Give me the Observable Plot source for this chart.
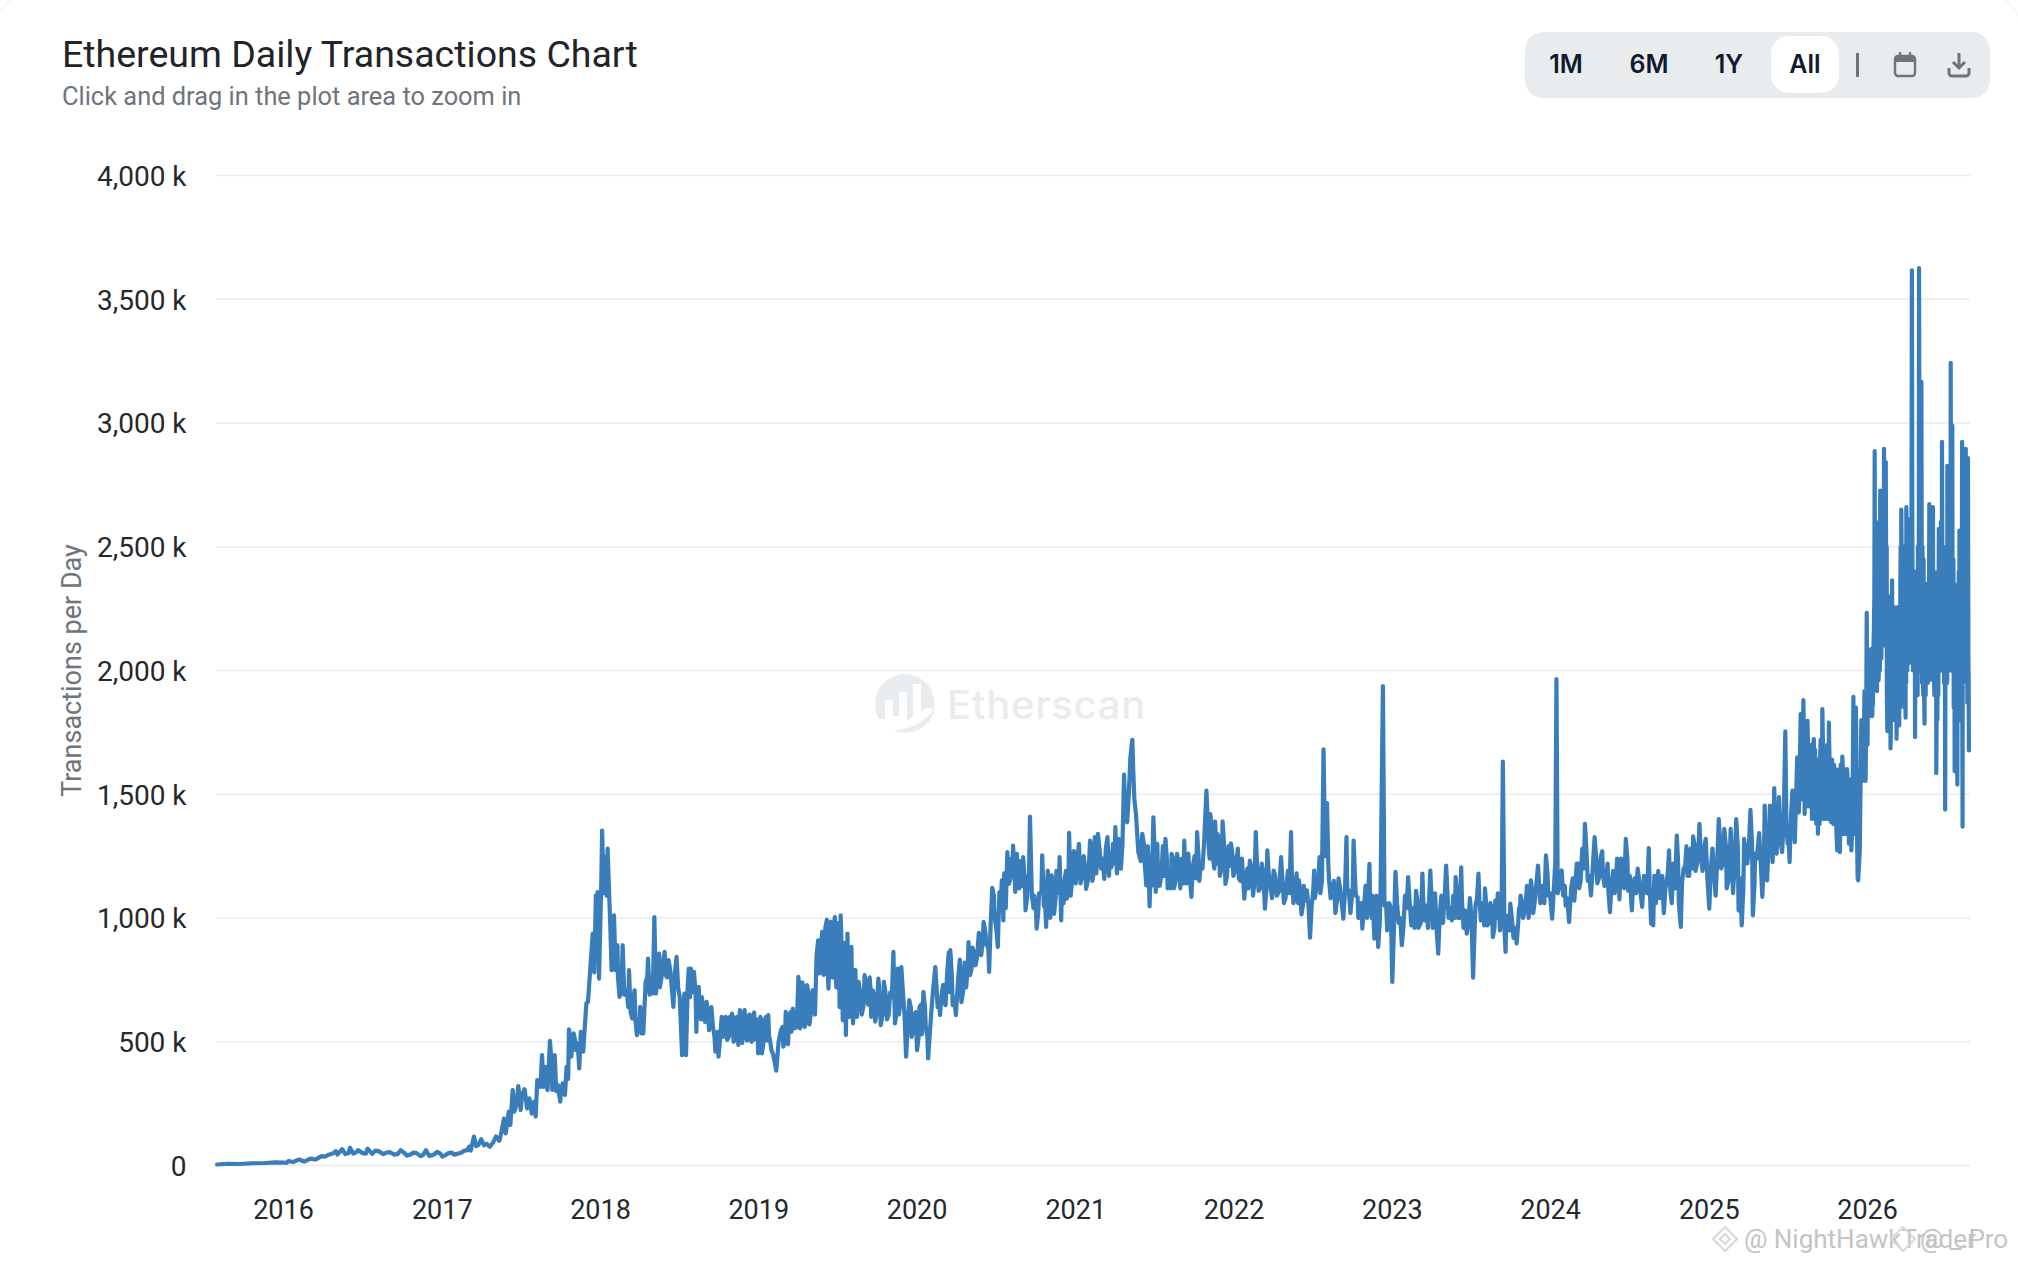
<!DOCTYPE html>
<html><head><meta charset="utf-8">
<script src="https://cdn.jsdelivr.net/npm/d3@7"></script>
<script src="https://cdn.jsdelivr.net/npm/@observablehq/plot@0.6"></script>
<style>
html,body{margin:0;padding:0;background:#fff;width:2018px;height:1264px;overflow:hidden;font-family:Roboto,sans-serif}
#page{position:relative;width:2018px;height:1264px;overflow:hidden}
#card{position:absolute;left:-6px;top:-8px;width:2028px;height:1400px;border:1.5px solid #eceef0;border-radius:40px;box-sizing:border-box}
#head{position:relative;height:120px}
#title{position:absolute;left:62px;top:31px;font-size:37.5px;line-height:46px;color:#1f2429;font-weight:400;white-space:nowrap}
#sub{position:absolute;left:62px;top:81px;font-size:25.4px;line-height:30px;color:#6c757d;white-space:nowrap}
#bar{position:absolute;left:1525px;top:32px;width:465px;height:66px;background:#e9ecef;border-radius:18px}
#bar span{position:absolute;top:0;line-height:64px;font-family:Inter,Roboto,sans-serif;font-weight:600;font-size:25px;color:#0f1a2c;transform:translateX(-50%)}
#all{position:absolute;left:246px;top:4px;width:68px;height:57px;background:#fff;border-radius:18px}
#div{position:absolute;left:331px;top:21px;width:3px;height:24px;background:#6c757d}
#bar svg{position:absolute;top:19px}
#wm{position:absolute;left:875px;top:674px;display:flex;align-items:center;color:#e9ecef;font-family:Inter,sans-serif;font-size:40px;font-weight:500;z-index:0}
#wm div{margin-left:12px;letter-spacing:.7px}
#chart{position:absolute;left:0;top:120px;z-index:1}
.mark{position:absolute;z-index:2;color:#c2c4c6;font-size:26px;font-family:Roboto,sans-serif;white-space:nowrap;top:1224px}
</style></head><body>
<div id="page">
<div id="card"></div>
<div id="wm"><svg width="60" height="60" viewBox="0 0 60 60"><path d="M30 0a30 30 0 0 1 29 36C52 32 50 34 46 38V10h-8v33l-6 4V18h-8v24h-6V26h-8v19H4A30 30 0 0 1 30 0z" fill="#e9ecef"/><path d="M60 34A30 30 0 0 1 18 56c18 0 32-8 42-22z" fill="#e9ecef"/></svg><div>Etherscan</div></div>
<div id="head">
<div id="title">Ethereum Daily Transactions Chart</div>
<div id="sub">Click and drag in the plot area to zoom in</div>
<div id="bar"><div id="all"></div><div id="div"></div>
<span style="left:41px">1M</span><span style="left:124px">6M</span><span style="left:204px">1Y</span><span style="left:280px">All</span>
<svg style="left:367px" width="26" height="28" viewBox="0 0 26 28"><rect x="3" y="5" width="20" height="20" rx="3" fill="none" stroke="#6c757d" stroke-width="2.4"/><rect x="3" y="5" width="20" height="6" fill="#6c757d"/><path d="M8 1v5M18 1v5" stroke="#6c757d" stroke-width="2.4"/></svg>
<svg style="left:421px" width="26" height="28" viewBox="0 0 26 28"><path d="M13 2v15M7 11l6 6 6-6" fill="none" stroke="#6c757d" stroke-width="3"/><path d="M3 17v5a3 3 0 0 0 3 3h14a3 3 0 0 0 3-3v-5" fill="none" stroke="#6c757d" stroke-width="3"/></svg>
</div>
</div>
<div id="chart"></div>
<svg class="mark" style="left:1712px;top:1226px;position:absolute" width="26" height="26" viewBox="0 0 26 26"><path d="M13 1l12 12-12 12L1 13z M13 8l5 5-5 5-5-5z" fill="none" stroke="#d6d8da" stroke-width="2"/></svg>
<div class="mark" style="left:1744px">@ NightHawkTrader</div>
<svg class="mark" style="left:1890px;top:1226px;position:absolute" width="26" height="26" viewBox="0 0 26 26"><path d="M13 1l12 12-12 12L1 13z" fill="none" stroke="#d6d8da" stroke-width="2"/></svg>
<div class="mark" style="left:1920px">@ _.Pro</div>
</div>
<script>
const yearTicks = [2016,2017,2018,2019,2020,2021,2022,2023,2024,2025,2026];
const yTicks = [0,500,1000,1500,2000,2500,3000,3500,4000];
const xStart = 2015.576, xEnd = 2026.65;

const era2015to2017 = [[2015.58,4],[2015.65,7],[2015.72,6],[2015.8,9],[2015.88,10],[2015.95,13],[2016.0,12],[2016.03,18],[2016.06,14],[2016.1,24],[2016.13,16],[2016.17,28],[2016.2,24],[2016.24,38],[2016.28,42],[2016.31,48],[2016.34,44],[2016.37,66],[2016.39,46],[2016.42,72],[2016.44,48],[2016.47,62],[2016.5,50],[2016.53,68],[2016.56,47],[2016.6,58],[2016.63,46],[2016.67,54],[2016.7,44],[2016.74,62],[2016.78,40],[2016.82,52],[2016.865,38],[2016.9,62],[2016.92,38],[2016.97,55],[2017.0,36],[2017.04,50],[2017.075,44],[2017.1,48],[2017.14,60],[2017.17,76],[2017.18,60],[2017.2,117],[2017.215,78],[2017.245,106],[2017.265,82],[2017.3,76],[2017.34,117],[2017.37,124],[2017.39,190],[2017.4,130],[2017.42,218],[2017.43,164],[2017.445,305],[2017.455,218],[2017.48,321],[2017.495,224],[2017.52,308],[2017.535,231],[2017.55,271],[2017.565,210],[2017.58,258],[2017.59,198],[2017.6,345],[2017.62,318],[2017.63,446],[2017.64,318],[2017.65,399],[2017.665,305],[2017.68,504],[2017.695,305],[2017.71,446],[2017.72,300],[2017.73,325],[2017.745,258],[2017.76,332],[2017.775,285],[2017.785,399],[2017.795,350],[2017.8,550],[2017.815,440],[2017.83,534],[2017.845,466],[2017.855,493],[2017.865,392],[2017.875,540],[2017.89,460],[2017.9,560],[2017.91,655]];

const era2018 = [[2017.92,661],[2017.95,937],[2017.96,780],[2017.97,1091],[2017.975,883],[2017.98,1105],[2017.99,755],[2018.01,1353],[2018.02,1100],[2018.03,1246],[2018.038,1090],[2018.045,1280],[2018.055,1085],[2018.06,1004],[2018.07,789],[2018.085,1011],[2018.095,789],[2018.107,890],[2018.12,681],[2018.14,890],[2018.15,690],[2018.165,708],[2018.18,789],[2018.19,620],[2018.2,594],[2018.215,708],[2018.23,527],[2018.25,641],[2018.26,534],[2018.27,534],[2018.285,742],[2018.3,836],[2018.31,690],[2018.32,762],[2018.33,695],[2018.34,1004],[2018.35,695],[2018.37,856],[2018.385,760],[2018.405,863],[2018.42,760],[2018.44,789],[2018.46,641],[2018.48,843],[2018.5,681],[2018.515,446],[2018.53,695],[2018.54,446],[2018.557,796],[2018.57,796],[2018.59,782],[2018.6,700],[2018.605,540],[2018.62,722],[2018.635,590],[2018.65,628],[2018.67,661],[2018.685,547],[2018.7,640],[2018.71,560],[2018.725,460],[2018.745,440],[2018.765,601],[2018.775,520],[2018.79,601],[2018.8,507],[2018.815,600],[2018.83,614],[2018.84,500],[2018.86,600],[2018.87,487],[2018.88,628],[2018.895,495],[2018.91,628],[2018.925,505],[2018.94,610],[2018.955,500],[2018.97,618],[2018.985,520],[2018.995,453]];

const era2019 = [[2019.01,601],[2019.02,453],[2019.04,590],[2019.05,505],[2019.06,608],[2019.07,510],[2019.08,466],[2019.11,383],[2019.14,547],[2019.155,480],[2019.17,621],[2019.185,490],[2019.2,620],[2019.21,550],[2019.215,634],[2019.23,555],[2019.25,762],[2019.26,554],[2019.275,740],[2019.29,560],[2019.305,729],[2019.32,570],[2019.34,708],[2019.355,610],[2019.375,910],[2019.385,776],[2019.4,944],[2019.41,770],[2019.43,993],[2019.44,715],[2019.455,985],[2019.465,760],[2019.48,1004],[2019.49,720],[2019.505,980],[2019.51,640],[2019.517,1011],[2019.53,587],[2019.54,900],[2019.55,527],[2019.56,937],[2019.57,600],[2019.585,883],[2019.595,574],[2019.61,790],[2019.62,600],[2019.63,742],[2019.65,610],[2019.668,769],[2019.68,690],[2019.7,760],[2019.71,600],[2019.72,708],[2019.735,581],[2019.755,755],[2019.77,567],[2019.79,742],[2019.81,590],[2019.83,700],[2019.85,863],[2019.86,574],[2019.875,796],[2019.885,610],[2019.9,802],[2019.92,610],[2019.93,440],[2019.95,668],[2019.965,520],[2019.98,600],[2020.0,466]];

const era2020 = [[2020.015,640],[2020.03,530],[2020.04,702],[2020.055,560],[2020.07,433],[2020.09,620],[2020.115,802],[2020.13,640],[2020.145,608],[2020.165,730],[2020.18,648],[2020.2,860],[2020.21,870],[2020.225,648],[2020.245,608],[2020.27,832],[2020.28,660],[2020.3,820],[2020.31,720],[2020.325,903],[2020.335,769],[2020.35,880],[2020.37,809],[2020.39,940],[2020.405,850],[2020.42,984],[2020.44,890],[2020.455,782],[2020.475,1122],[2020.49,1000],[2020.51,883],[2020.52,1105],[2020.535,1152],[2020.545,990],[2020.57,1266],[2020.58,1138],[2020.595,1240],[2020.606,1293],[2020.62,1105],[2020.63,1259],[2020.645,1120],[2020.67,1246],[2020.685,1031],[2020.7,1170],[2020.713,1410],[2020.725,1091],[2020.74,1090],[2020.755,957],[2020.77,1100],[2020.79,1253],[2020.8,1050],[2020.815,964],[2020.825,1192],[2020.84,1000],[2020.85,1172],[2020.865,1017],[2020.88,1190],[2020.9,1246],[2020.91,990],[2020.93,1150],[2020.945,1078],[2020.96,1344],[2020.97,1090]];

const era2021 = [[2020.99,1270],[2021.0,1140],[2021.02,1300],[2021.03,1140],[2021.05,1250],[2021.065,1118],[2021.09,1313],[2021.105,1150],[2021.12,1327],[2021.13,1180],[2021.14,1340],[2021.16,1200],[2021.18,1158],[2021.2,1327],[2021.21,1170],[2021.225,1205],[2021.25,1367],[2021.26,1180],[2021.285,1199],[2021.305,1579],[2021.315,1400],[2021.325,1387],[2021.345,1650],[2021.357,1720],[2021.37,1480],[2021.38,1420],[2021.395,1266],[2021.42,1340],[2021.435,1220],[2021.445,1132],[2021.455,1290],[2021.466,1047],[2021.49,1407],[2021.505,1105],[2021.515,1300],[2021.53,1130],[2021.55,1290],[2021.566,1320],[2021.58,1120],[2021.605,1259],[2021.62,1120],[2021.64,1259],[2021.66,1120],[2021.685,1313],[2021.7,1140],[2021.73,1085],[2021.75,1250],[2021.766,1347],[2021.78,1150],[2021.8,1200],[2021.825,1515],[2021.84,1280],[2021.85,1420],[2021.865,1250],[2021.88,1390],[2021.895,1340],[2021.91,1170],[2021.927,1391],[2021.945,1138],[2021.965,1290],[2021.98,1302],[2021.995,1170]];

const era2022 = [[2022.024,1280],[2022.04,1150],[2022.065,1078],[2022.085,1200],[2022.1,1232],[2022.12,1090],[2022.137,1347],[2022.155,1110],[2022.175,1220],[2022.195,1038],[2022.21,1273],[2022.23,1130],[2022.25,1192],[2022.27,1090],[2022.297,1246],[2022.315,1060],[2022.34,1190],[2022.36,1347],[2022.375,1060],[2022.395,1180],[2022.41,1152],[2022.426,1015],[2022.44,1130],[2022.46,1112],[2022.48,921],[2022.506,1192],[2022.52,1120],[2022.54,1246],[2022.555,1150],[2022.565,1681],[2022.575,1250],[2022.587,1464],[2022.6,1152],[2022.62,1100],[2022.65,1071],[2022.67,1120],[2022.69,997],[2022.71,1327],[2022.725,1110],[2022.755,1313],[2022.77,1090],[2022.78,1085],[2022.795,1010],[2022.81,957],[2022.83,1130],[2022.855,1219],[2022.87,1000],[2022.886,917],[2022.9,1090],[2022.91,883],[2022.925,1100],[2022.94,1937],[2022.95,1050],[2022.967,950],[2022.98,1060],[2023.0,742]];

const era2023 = [[2023.02,1186],[2023.04,980],[2023.06,890],[2023.08,1090],[2023.1,1165],[2023.12,970],[2023.15,1110],[2023.165,960],[2023.19,1179],[2023.205,990],[2023.24,1192],[2023.255,960],[2023.27,1100],[2023.29,856],[2023.31,1090],[2023.34,1212],[2023.355,1000],[2023.376,990],[2023.4,1165],[2023.415,1000],[2023.435,1205],[2023.45,960],[2023.47,937],[2023.49,1080],[2023.51,759],[2023.525,1050],[2023.544,1179],[2023.56,990],[2023.585,1120],[2023.6,970],[2023.62,1060],[2023.635,923],[2023.65,1070],[2023.666,1100],[2023.68,950],[2023.698,1632],[2023.708,960],[2023.715,863],[2023.73,1000],[2023.745,1058],[2023.765,920],[2023.785,897],[2023.8,1040],[2023.81,1091],[2023.825,1000],[2023.85,1130],[2023.86,1000],[2023.875,1152],[2023.89,1020],[2023.92,1212],[2023.935,1060],[2023.97,1253],[2023.985,1090]];

const era2024 = [[2024.01,997],[2024.03,1230],[2024.037,1965],[2024.045,1100],[2024.07,1192],[2024.095,1050],[2024.117,984],[2024.14,1160],[2024.165,1220],[2024.18,1120],[2024.2,1280],[2024.217,1380],[2024.235,1150],[2024.255,1091],[2024.278,1327],[2024.295,1140],[2024.326,1270],[2024.34,1130],[2024.36,1220],[2024.375,1024],[2024.395,1190],[2024.42,1240],[2024.435,1075],[2024.455,1190],[2024.475,1320],[2024.49,1110],[2024.513,1031],[2024.53,1160],[2024.55,1200],[2024.578,1045],[2024.6,1130],[2024.62,1282],[2024.635,977],[2024.648,970],[2024.67,1120],[2024.697,1165],[2024.715,1020],[2024.748,1273],[2024.765,1060],[2024.797,1333],[2024.81,1060],[2024.822,964],[2024.84,1200],[2024.858,1290],[2024.875,1170],[2024.9,1330],[2024.915,1190],[2024.94,1380],[2024.96,1190],[2024.98,1320]];

const era2025 = [[2025.0,1038],[2025.02,1280],[2025.04,1090],[2025.06,1400],[2025.075,1200],[2025.095,1360],[2025.11,1120],[2025.135,1360],[2025.15,1100],[2025.17,1400],[2025.185,1030],[2025.205,970],[2025.22,1320],[2025.24,1220],[2025.26,1437],[2025.275,1011],[2025.29,1260],[2025.315,1343],[2025.335,1085],[2025.35,1454],[2025.365,1152],[2025.383,1454],[2025.4,1226],[2025.41,1525],[2025.425,1260],[2025.44,1488],[2025.46,1266],[2025.48,1754],[2025.495,1300],[2025.507,1226],[2025.525,1515],[2025.54,1306],[2025.555,1649],[2025.565,1427],[2025.577,1824],[2025.585,1480],[2025.594,1880],[2025.61,1500],[2025.62,1797],[2025.63,1528],[2025.645,1700],[2025.66,1723],[2025.672,1450],[2025.686,1340],[2025.7,1650],[2025.714,1844],[2025.728,1407],[2025.742,1680],[2025.755,1790],[2025.77,1387],[2025.787,1620],[2025.808,1273],[2025.825,1266],[2025.84,1652],[2025.855,1360],[2025.87,1602],[2025.885,1400],[2025.897,1273],[2025.91,1894],[2025.92,1340],[2025.926,1850],[2025.94,1152],[2025.95,1269],[2025.96,1800],[2025.967,1554],[2025.975,1700],[2025.98,1917]];

const era2026a = [[2025.987,1554],[2025.994,2233],[2026.0,1700],[2026.007,2040],[2026.015,1816],[2026.022,2086],[2026.03,1816],[2026.037,2086],[2026.04,2171],[2026.045,2886],[2026.05,2171],[2026.055,2600],[2026.06,1917],[2026.066,2300],[2026.072,2000],[2026.08,2727],[2026.087,2048],[2026.093,2500],[2026.097,2150],[2026.104,2896],[2026.11,2200],[2026.115,2842],[2026.12,2100],[2026.125,1755],[2026.13,2150],[2026.137,1900],[2026.145,1685],[2026.15,2150],[2026.155,2364],[2026.16,1800],[2026.167,2256],[2026.175,1800],[2026.183,1724],[2026.19,2256],[2026.195,1950],[2026.2,1778],[2026.207,2350],[2026.213,2650],[2026.22,1900],[2026.227,2500],[2026.233,1850],[2026.24,1809],[2026.245,2660],[2026.25,2032],[2026.255,2500],[2026.26,2611],[2026.267,2032],[2026.272,2400]];

const era2026b = [[2026.28,3617],[2026.285,2200],[2026.292,2000],[2026.3,1731],[2026.306,2200],[2026.31,1950],[2026.318,2500],[2026.325,3626],[2026.33,2400],[2026.34,3166],[2026.345,2300],[2026.35,1950],[2026.36,1785],[2026.365,2310],[2026.372,1950],[2026.38,2300],[2026.385,1963],[2026.39,2672],[2026.4,1963],[2026.407,2400],[2026.413,2660],[2026.42,1950],[2026.428,2300],[2026.434,1585],[2026.44,2200],[2026.445,1900],[2026.45,2572],[2026.457,2000],[2026.463,2600],[2026.47,2924],[2026.478,2100],[2026.484,2400],[2026.49,1438],[2026.497,2300],[2026.504,2827],[2026.51,2000],[2026.518,2700],[2026.525,3243],[2026.53,2300],[2026.535,2989],[2026.54,2100],[2026.55,1593],[2026.555,2300],[2026.56,1800],[2026.567,1539],[2026.574,2300],[2026.58,2565],[2026.586,1800],[2026.593,2500],[2026.597,2924],[2026.6,1369],[2026.606,2600],[2026.612,2000],[2026.62,2896],[2026.625,2100],[2026.63,1870],[2026.634,2858],[2026.638,2000],[2026.64,1677]];

// Extra day-to-day readings that thicken the band
const band2017 = [[2016.02,11],[2016.08,20],[2016.15,22],[2016.26,36],[2016.33,58],[2016.41,50],[2016.46,54],[2016.52,48],[2016.58,60],[2016.65,52],[2016.72,46],[2016.76,52],[2016.8,44],[2016.84,50],[2016.88,42],[2016.95,44],[2016.99,48],[2017.02,42],[2017.06,52],[2017.12,52],[2017.16,62],[2017.23,84],[2017.28,88],[2017.32,92],[2017.36,100],[2017.41,170],[2017.47,250],[2017.505,290],[2017.545,240],[2017.575,220],[2017.655,330],[2017.69,420],[2017.705,340],[2017.75,300],[2017.81,510],[2017.84,500],[2017.885,510]];
const band2018 = [[2018.005,1150],[2018.08,820],[2018.11,760],[2018.13,700],[2018.175,640],[2018.205,660],[2018.22,590],[2018.245,560],[2018.265,620],[2018.295,760],[2018.315,710],[2018.36,770],[2018.375,720],[2018.395,820],[2018.41,770],[2018.43,830],[2018.45,720],[2018.47,780],[2018.49,720],[2018.52,620],[2018.535,560],[2018.55,720],[2018.565,680],[2018.58,700],[2018.61,660],[2018.625,620],[2018.64,680],[2018.66,580],[2018.68,610],[2018.69,600],[2018.72,520],[2018.74,540],[2018.755,510],[2018.77,590],[2018.785,530],[2018.795,590],[2018.81,520],[2018.825,530],[2018.835,600],[2018.85,510],[2018.865,590],[2018.885,510],[2018.9,610],[2018.915,520],[2018.93,600],[2018.945,510],[2018.96,600],[2018.975,510],[2018.99,590]];
const band2019 = [[2019.015,590],[2019.03,500],[2019.045,600],[2019.065,520],[2019.09,450],[2019.1,420],[2019.125,500],[2019.15,560],[2019.165,500],[2019.19,600],[2019.205,540],[2019.22,600],[2019.24,560],[2019.255,720],[2019.27,580],[2019.285,700],[2019.3,590],[2019.315,690],[2019.33,620],[2019.345,680],[2019.365,850],[2019.38,800],[2019.395,900],[2019.405,790],[2019.42,960],[2019.435,790],[2019.45,960],[2019.46,790],[2019.475,970],[2019.485,760],[2019.5,950],[2019.525,840],[2019.535,640],[2019.545,860],[2019.565,700],[2019.58,820],[2019.59,640],[2019.605,760],[2019.615,650],[2019.64,700],[2019.66,640],[2019.675,740],[2019.69,650],[2019.705,720],[2019.715,620],[2019.73,680],[2019.745,620],[2019.76,720],[2019.785,620],[2019.8,700],[2019.82,610],[2019.84,680],[2019.855,700],[2019.87,620],[2019.88,740],[2019.895,660],[2019.91,700],[2019.94,560],[2019.96,640],[2019.975,560],[2019.99,620]];
const band2020 = [[2020.01,520],[2020.025,650],[2020.05,640],[2020.065,520],[2020.08,530],[2020.1,700],[2020.125,700],[2020.14,660],[2020.155,690],[2020.17,660],[2020.19,780],[2020.205,700],[2020.22,760],[2020.235,680],[2020.26,760],[2020.275,720],[2020.29,700],[2020.305,780],[2020.32,800],[2020.33,840],[2020.345,800],[2020.36,860],[2020.38,850],[2020.395,900],[2020.415,900],[2020.43,950],[2020.45,880],[2020.465,980],[2020.485,1090],[2020.5,960],[2020.515,1000],[2020.53,1070],[2020.55,1180],[2020.56,1040],[2020.575,1180],[2020.59,1160],[2020.6,1180],[2020.615,1200],[2020.64,1160],[2020.655,1230],[2020.66,1130],[2020.68,1150],[2020.695,1080],[2020.705,1120],[2020.735,1040],[2020.75,1040],[2020.765,1020],[2020.785,1100],[2020.795,1170],[2020.81,1040],[2020.82,1100],[2020.835,1130],[2020.845,1020],[2020.86,1120],[2020.875,1080],[2020.885,1140],[2020.895,1100],[2020.915,1130],[2020.925,1060],[2020.94,1190],[2020.955,1120],[2020.98,1160]];
const band2021 = [[2021.01,1240],[2021.04,1170],[2021.06,1200],[2021.08,1160],[2021.1,1280],[2021.115,1190],[2021.125,1290],[2021.15,1280],[2021.17,1240],[2021.19,1280],[2021.215,1260],[2021.235,1300],[2021.245,1220],[2021.27,1320],[2021.295,1300],[2021.335,1500],[2021.365,1560],[2021.41,1230],[2021.43,1300],[2021.44,1180],[2021.46,1200],[2021.475,1250],[2021.48,1130],[2021.5,1230],[2021.52,1150],[2021.54,1170],[2021.56,1170],[2021.575,1240],[2021.59,1170],[2021.6,1120],[2021.615,1240],[2021.63,1150],[2021.65,1210],[2021.67,1240],[2021.68,1140],[2021.69,1200],[2021.71,1260],[2021.72,1170],[2021.74,1210],[2021.76,1160],[2021.775,1250],[2021.79,1220],[2021.81,1300],[2021.835,1360],[2021.845,1240],[2021.86,1340],[2021.875,1200],[2021.89,1220],[2021.905,1310],[2021.92,1200],[2021.94,1260],[2021.955,1170],[2021.97,1210],[2021.99,1250]];
const band2022 = [[2022.01,1200],[2022.03,1160],[2022.05,1240],[2022.075,1170],[2022.09,1120],[2022.11,1200],[2022.13,1150],[2022.145,1220],[2022.165,1120],[2022.185,1180],[2022.205,1120],[2022.22,1170],[2022.24,1080],[2022.26,1170],[2022.285,1110],[2022.305,1160],[2022.325,1080],[2022.35,1100],[2022.365,1180],[2022.385,1080],[2022.405,1060],[2022.415,1120],[2022.435,1050],[2022.45,1070],[2022.47,1050],[2022.49,1050],[2022.5,1110],[2022.51,1080],[2022.53,1140],[2022.545,1100],[2022.595,1220],[2022.61,1080],[2022.63,1150],[2022.64,1020],[2022.66,1160],[2022.68,1060],[2022.7,1100],[2022.715,1120],[2022.735,1020],[2022.75,1130],[2022.765,1140],[2022.785,1000],[2022.805,1060],[2022.82,1040],[2022.84,1000],[2022.86,1050],[2022.875,1090],[2022.895,1000],[2022.905,1060],[2022.92,980],[2022.96,1060],[2022.975,980],[2022.99,1040]];
const band2023 = [[2023.01,950],[2023.03,1060],[2023.05,1000],[2023.07,960],[2023.09,1040],[2023.11,1060],[2023.13,1040],[2023.14,960],[2023.16,1060],[2023.18,980],[2023.195,1080],[2023.215,1050],[2023.225,960],[2023.25,1050],[2023.265,1020],[2023.28,950],[2023.3,1020],[2023.32,980],[2023.33,1080],[2023.35,1080],[2023.365,1040],[2023.385,1090],[2023.395,1000],[2023.41,1090],[2023.425,1000],[2023.44,1070],[2023.46,1030],[2023.48,980],[2023.5,1000],[2023.52,960],[2023.535,1080],[2023.55,1070],[2023.57,1060],[2023.58,970],[2023.595,1040],[2023.61,980],[2023.63,1020],[2023.645,960],[2023.66,1000],[2023.675,1010],[2023.69,1040],[2023.72,1010],[2023.74,950],[2023.755,1000],[2023.775,960],[2023.795,980],[2023.805,1020],[2023.82,1060],[2023.84,1040],[2023.855,1080],[2023.87,1060],[2023.885,1100],[2023.9,1070],[2023.91,1140],[2023.93,1100],[2023.95,1130],[2023.96,1060],[2023.98,1180],[2023.995,1100]];
const band2024 = [[2024.02,1110],[2024.06,1140],[2024.08,1090],[2024.09,1130],[2024.105,1080],[2024.13,1120],[2024.15,1070],[2024.175,1220],[2024.19,1150],[2024.21,1200],[2024.225,1290],[2024.245,1170],[2024.265,1190],[2024.285,1270],[2024.305,1160],[2024.315,1240],[2024.33,1180],[2024.35,1160],[2024.365,1110],[2024.385,1140],[2024.405,1100],[2024.415,1180],[2024.43,1160],[2024.445,1240],[2024.465,1120],[2024.485,1240],[2024.5,1170],[2024.52,1120],[2024.54,1100],[2024.56,1150],[2024.57,1090],[2024.59,1170],[2024.61,1100],[2024.625,1140],[2024.64,1100],[2024.655,1170],[2024.665,1060],[2024.68,1190],[2024.69,1080],[2024.705,1170],[2024.725,1120],[2024.74,1180],[2024.755,1120],[2024.775,1220],[2024.785,1120],[2024.805,1230],[2024.83,1140],[2024.85,1210],[2024.865,1170],[2024.885,1280],[2024.895,1200],[2024.91,1290],[2024.925,1220],[2024.935,1300],[2024.95,1240],[2024.97,1280],[2024.99,1160]];
const band2025 = [[2025.01,1200],[2025.03,1180],[2025.05,1230],[2025.07,1290],[2025.085,1220],[2025.105,1290],[2025.125,1160],[2025.14,1280],[2025.16,1220],[2025.18,1290],[2025.195,1160],[2025.215,1120],[2025.23,1260],[2025.25,1290],[2025.27,1300],[2025.285,1130],[2025.3,1240],[2025.325,1220],[2025.345,1250],[2025.358,1200],[2025.375,1300],[2025.393,1300],[2025.405,1350],[2025.418,1310],[2025.433,1370],[2025.45,1310],[2025.47,1400],[2025.487,1370],[2025.5,1340],[2025.515,1400],[2025.533,1380],[2025.548,1480],[2025.56,1510],[2025.57,1540],[2025.58,1620],[2025.59,1600],[2025.6,1650],[2025.615,1560],[2025.625,1640],[2025.638,1540],[2025.652,1590],[2025.665,1520],[2025.68,1560],[2025.693,1420],[2025.707,1600],[2025.72,1500],[2025.735,1560],[2025.748,1500],[2025.762,1560],[2025.78,1480],[2025.797,1560],[2025.815,1460],[2025.833,1500],[2025.848,1480],[2025.862,1540],[2025.877,1460],[2025.89,1500],[2025.905,1500],[2025.915,1640],[2025.933,1320]];
const band2026 = [[2026.003,2050],[2026.011,1860],[2026.026,2020],[2026.034,1860],[2026.043,2300],[2026.048,2400],[2026.052,2450],[2026.058,2100],[2026.063,2350],[2026.069,1960],[2026.076,2250],[2026.084,2300],[2026.09,2200],[2026.1,2400],[2026.108,2350],[2026.118,2300],[2026.122,1900],[2026.128,2080],[2026.133,2000],[2026.141,2040],[2026.148,1950],[2026.153,2100],[2026.163,2000],[2026.171,2100],[2026.178,1900],[2026.187,2050],[2026.198,2100],[2026.204,2000],[2026.21,2300],[2026.217,2200],[2026.224,2000],[2026.23,2350],[2026.237,2000],[2026.243,2200],[2026.248,2300],[2026.253,2150],[2026.258,2200],[2026.264,2300],[2026.27,2150],[2026.276,2300],[2026.288,2400],[2026.296,2200],[2026.303,2100],[2026.314,2300],[2026.322,2100],[2026.328,2700],[2026.337,2500],[2026.348,2300],[2026.355,2200],[2026.368,2100],[2026.376,2100],[2026.383,2200],[2026.395,2200],[2026.403,2100],[2026.41,2100],[2026.417,2200],[2026.424,2100],[2026.431,2000],[2026.437,1900],[2026.442,2100],[2026.448,2100],[2026.454,2300],[2026.46,2200],[2026.467,2400],[2026.474,2400],[2026.481,2200],[2026.487,2000],[2026.494,2150],[2026.5,2000],[2026.507,2400],[2026.514,2200],[2026.521,2400],[2026.528,2600],[2026.538,2400],[2026.545,2000],[2026.552,2150],[2026.558,2000],[2026.562,2200],[2026.571,2000],[2026.577,2200],[2026.583,2300],[2026.59,2100],[2026.595,2200],[2026.603,2100],[2026.609,2400],[2026.616,2300],[2026.623,2400],[2026.628,2300],[2026.632,2400],[2026.636,2300]];
const solid2025 = [[2025.602,1420],[2025.607,1700],[2025.612,1450],[2025.618,1720],[2025.635,1450],[2025.642,1680],[2025.648,1400],[2025.655,1690],[2025.662,1400],[2025.668,1680],[2025.676,1380],[2025.682,1620],[2025.69,1640],[2025.697,1380],[2025.703,1720],[2025.71,1400],[2025.718,1700],[2025.724,1400],[2025.732,1640],[2025.738,1400],[2025.745,1700],[2025.752,1400],[2025.758,1680],[2025.765,1400],[2025.775,1640],[2025.783,1380],[2025.792,1600],[2025.803,1340],[2025.81,1600],[2025.82,1340],[2025.83,1620],[2025.837,1340],[2025.844,1600],[2025.852,1340],[2025.858,1600],[2025.866,1340],[2025.873,1560],[2025.882,1300],[2025.893,1560],[2025.9,1320],[2025.912,1420],[2025.923,1560],[2025.93,1560],[2025.937,1160]];
const solid2026a = [[2025.991,1800],[2025.997,1760],[2026.005,1850],[2026.009,2050],[2026.013,1850],[2026.018,2050],[2026.024,1850],[2026.028,2060],[2026.032,1900],[2026.047,2100],[2026.054,2200],[2026.061,2500],[2026.067,2100],[2026.074,2500],[2026.078,2000],[2026.082,2500],[2026.086,2100],[2026.092,2300],[2026.095,2100],[2026.102,2100],[2026.106,2500],[2026.113,2100],[2026.121,2500],[2026.127,2300],[2026.131,1800],[2026.135,2300],[2026.139,1800],[2026.143,2200],[2026.147,1750],[2026.151,2300],[2026.157,1850],[2026.159,2250],[2026.165,1850],[2026.169,1850],[2026.173,2200],[2026.177,1850],[2026.181,2200],[2026.185,1850],[2026.189,1850],[2026.192,2200],[2026.197,1800],[2026.202,2200],[2026.206,1850],[2026.209,2500],[2026.212,1950],[2026.215,2500],[2026.218,1950],[2026.222,2400],[2026.225,1900],[2026.229,2500],[2026.232,1900],[2026.235,2400],[2026.239,1900],[2026.241,2400],[2026.244,1950],[2026.247,2500],[2026.251,2000],[2026.254,2450],[2026.257,2050],[2026.262,2450],[2026.265,2050],[2026.269,2450],[2026.273,2050],[2026.277,2450]];
const solid2026b = [[2026.283,2500],[2026.287,2000],[2026.29,2400],[2026.294,2000],[2026.298,2400],[2026.301,1900],[2026.305,2400],[2026.308,1900],[2026.312,2400],[2026.316,1900],[2026.32,2500],[2026.323,2000],[2026.332,2000],[2026.335,2600],[2026.339,2000],[2026.342,2500],[2026.344,1950],[2026.347,2500],[2026.352,1900],[2026.354,2450],[2026.357,1900],[2026.362,2350],[2026.367,1900],[2026.37,2350],[2026.374,1950],[2026.378,2300],[2026.381,1950],[2026.388,2300],[2026.392,2000],[2026.397,2500],[2026.402,2000],[2026.405,2500],[2026.409,2000],[2026.412,2500],[2026.415,2000],[2026.419,2400],[2026.422,1900],[2026.426,2350],[2026.43,1900],[2026.433,2300],[2026.436,1800],[2026.439,2300],[2026.441,1800],[2026.444,2400],[2026.447,1900],[2026.452,2300],[2026.456,2000],[2026.459,2500],[2026.462,2050],[2026.465,2500],[2026.469,2050],[2026.472,2500],[2026.476,2000],[2026.48,2500],[2026.483,1950],[2026.486,2400],[2026.489,1900],[2026.493,2400],[2026.496,1950],[2026.499,2500],[2026.503,1950],[2026.506,2550],[2026.509,2000],[2026.513,2550],[2026.516,2000],[2026.52,2500],[2026.524,2000],[2026.527,2500],[2026.532,2000],[2026.534,2500],[2026.537,2000],[2026.542,2450],[2026.544,1850],[2026.548,2350],[2026.551,1850],[2026.554,2300],[2026.557,1800],[2026.561,2300],[2026.564,1800],[2026.569,2300],[2026.572,1800],[2026.576,2400],[2026.579,1900],[2026.582,2500],[2026.585,1900],[2026.588,2500],[2026.591,1900],[2026.594,2500],[2026.598,1900],[2026.601,2500],[2026.604,1950],[2026.607,2600],[2026.611,2000],[2026.614,2600],[2026.618,2000],[2026.622,2600],[2026.626,2000],[2026.629,2600],[2026.633,2000],[2026.635,2500],[2026.637,2000]];

function toDate(t) {
  const y = Math.floor(t);
  return new Date(Date.UTC(y, 0, 1) + (t - y) * 365.25 * 864e5);
}

const rows = [era2015to2017, era2018, era2019, era2020, era2021, era2022, era2023, era2024, era2025, era2026a, era2026b,
  band2017, band2018, band2019, band2020, band2021, band2022, band2023, band2024, band2025, band2026, solid2025, solid2026a, solid2026b]
  .flat().sort((a, b) => a[0] - b[0]).map(([t, v]) => ({date: toDate(t), value: v}));

const chart = Plot.plot({
  width: 2018, height: 1144,
  marginLeft: 216, marginRight: 48, marginTop: 55, marginBottom: 99,
  style: {background: "transparent", fontFamily: "Roboto, sans-serif"},
  x: {type: "utc", domain: [toDate(xStart), toDate(xEnd)]},
  y: {domain: [0, 4000]},
  marks: [
    Plot.gridY(yTicks, {stroke: "#e9ebed", strokeOpacity: 1, strokeWidth: 1.6}),
    Plot.axisY(yTicks, {tickSize: 0, tickPadding: 30, label: null, fontSize: 28, dy: 1.5, color: "#24292e",
      tickFormat: d => d === 0 ? "0" : d3.format(",")(d) + " k"}),
    Plot.axisX(yearTicks.map(y => toDate(y)), {tickSize: 0, tickPadding: 34, label: null, fontSize: 27, color: "#24292e",
      tickFormat: d => String(d.getUTCFullYear())}),
    Plot.text(["Transactions per Day"], {frameAnchor: "left", rotate: -90, dx: -144, fontSize: 27, textAnchor: "middle", fill: "#6c757d"}),
    Plot.line(rows, {x: "date", y: "value", stroke: "#3a7dbb", strokeWidth: 4.2, strokeLinejoin: "round", curve: "linear"})
  ]
});
document.getElementById("chart").appendChild(chart);
</script>
</body></html>
